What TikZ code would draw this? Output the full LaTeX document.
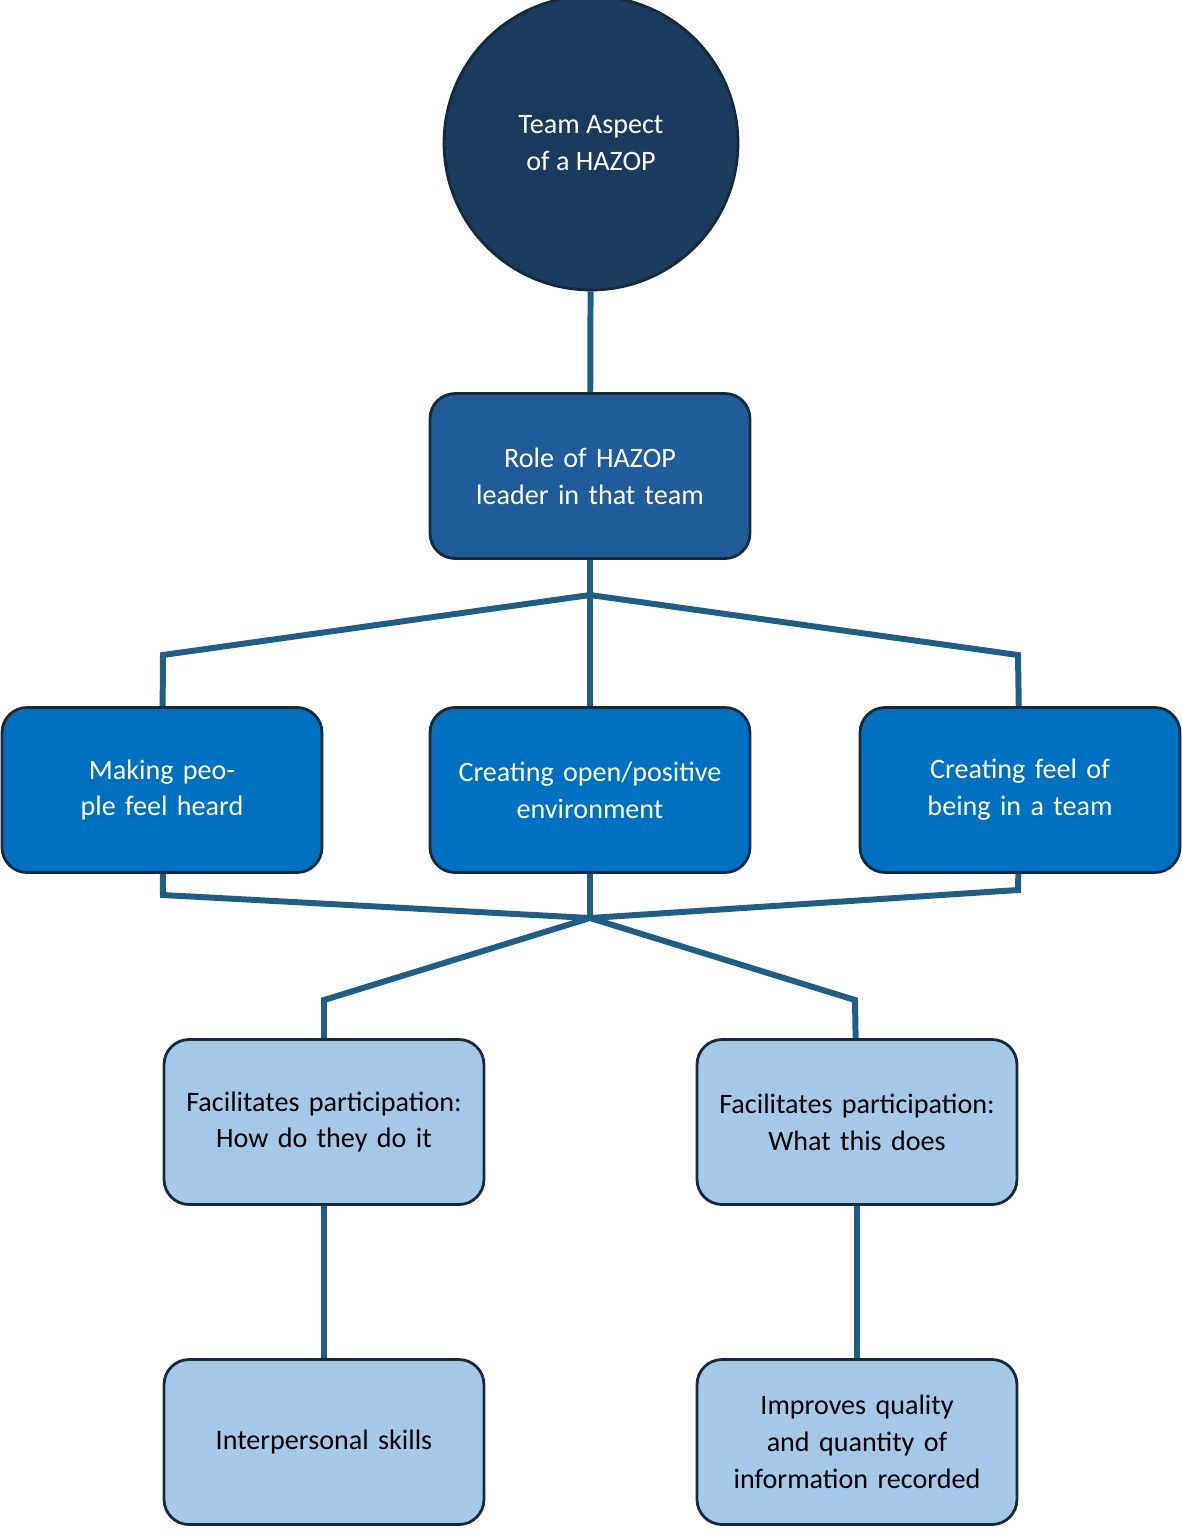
\documentclass[tikz,border=0pt]{standalone}
\usepackage{fontspec}
\setmainfont{Carlito}
\usetikzlibrary{positioning}
\definecolor{navy}{HTML}{1A3A5E}
\definecolor{rolecol}{HTML}{1F5C99}
\definecolor{midcol}{HTML}{0070C0}
\definecolor{lightcol}{HTML}{A6C8E8}
\definecolor{edgecol}{HTML}{152B3C}
\definecolor{linkcol}{HTML}{1F5F85}
\begin{document}
\begin{tikzpicture}[x=0.02cm,y=-0.02cm,
    box/.style={draw=edgecol,line width=1.6pt,rounded corners=0.5cm,
      minimum width=6.4cm,minimum height=3.3cm,text width=5.6cm,align=center,
      font=\fontsize{16}{21}\selectfont},
    darkbox/.style={box,fill=rolecol,text=white},
    midbox/.style={box,fill=midcol,text=white},
    lightbox/.style={box,fill=lightcol,text=black},
    link/.style={draw=linkcol,line width=3.4pt}]
    \useasboundingbox (0,0) rectangle (1182,1536);

    \coordinate (top) at (590,595);
    \coordinate (bot) at (590,918);
    \coordinate (tl) at (163,655);
    \coordinate (tr) at (1018,655);
    \coordinate (bl) at (163,895);
    \coordinate (br) at (1018,890);
    \coordinate (fl) at (324,1000);
    \coordinate (fr) at (855,1000);

    \node[circle,fill=navy,draw=edgecol,line width=1.6pt,minimum size=5.88cm,
      text=white,align=center,font=\fontsize{16}{21}\selectfont] (team) at (591,143) {Team Aspect\\of a HAZOP};
    \node[darkbox] (role) at (590,476) {Role of HAZOP leader in that team};
    \node[midbox] (heard) at (162,790) {Making people feel heard};
    \node[midbox] (open) at (590,790) {Creating open/positive environment};
    \node[midbox] (feel) at (1020,790) {Creating feel of being in a team};
    \node[lightbox] (how) at (324,1122) {Facilitates participation: How do they do it};
    \node[lightbox] (what) at (857,1122) {Facilitates participation: What this does};
    \node[lightbox] (skills) at (324,1442) {Interpersonal skills};
    \node[lightbox] (info) at (857,1442) {Improves quality and quantity of information recorded};

    \draw[link] (team) -- (role);
    \draw[link] (role) -- (top);
    \draw[link] (top) -- (tl) -- (heard);
    \draw[link] (top) -- (open);
    \draw[link] (top) -- (tr) -- (feel);
    \draw[link] (heard) -- (bl) -- (bot);
    \draw[link] (open) -- (bot);
    \draw[link] (feel) -- (br) -- (bot);
    \draw[link] (bot) -- (fl) -- (how);
    \draw[link] (bot) -- (fr) -- (what);
    \draw[link] (how) -- (skills);
    \draw[link] (what) -- (info);
\end{tikzpicture}
\end{document}
